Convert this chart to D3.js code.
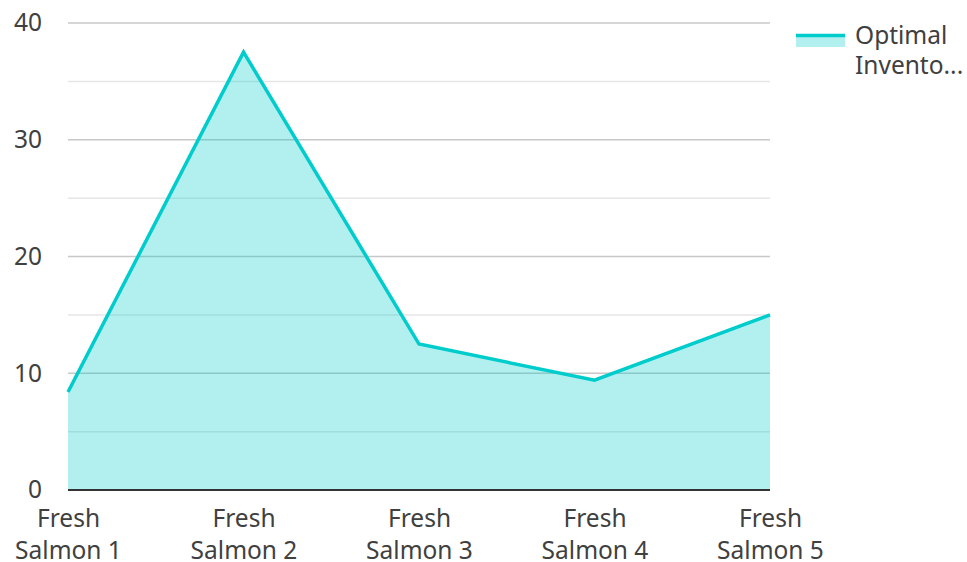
<!DOCTYPE html>
<html>
<head>
<meta charset="utf-8">
<script src="https://cdn.jsdelivr.net/npm/d3@7"></script>
<style>
  body { margin: 0; background: #fff; }
  text { font-family: "Noto Sans", "Open Sans", sans-serif; fill: #404040; }
</style>
</head>
<body>
<div id="chart"></div>
<script>
// data
var categories = ["Fresh Salmon 1", "Fresh Salmon 2", "Fresh Salmon 3", "Fresh Salmon 4", "Fresh Salmon 5"];
var inventory = [8.4, 37.5, 12.5, 9.4, 15.0];
var yTicks = [0, 10, 20, 30, 40];
var seriesName = "Optimal Inventory";

var width = 967, height = 562;
var margin = {top: 23, right: 197, bottom: 72, left: 68};
var w = width - margin.left - margin.right;
var h = height - margin.top - margin.bottom;
var lineColor = "#00cccc";
var fontSize = 24.5;

var svg = d3.select("#chart").append("svg")
    .attr("width", width).attr("height", height);

var g = svg.append("g").attr("transform", `translate(${margin.left},${margin.top})`);

var x = d3.scalePoint().domain(categories).range([0, w]);
var y = d3.scaleLinear().domain([0, 40]).range([h, 0]);

// gridlines (minor then major)
var minor = d3.range(5, 40, 10);
g.selectAll(".minor").data(minor).join("line")
    .attr("x1", 0).attr("x2", w)
    .attr("y1", d => y(d)).attr("y2", d => y(d))
    .attr("stroke", "#e6e6e6").attr("stroke-width", 1.5);
g.selectAll(".major").data(yTicks.slice(1)).join("line")
    .attr("x1", 0).attr("x2", w)
    .attr("y1", d => y(d)).attr("y2", d => y(d))
    .attr("stroke", "#c8c8c8").attr("stroke-width", 1.5);

var pts = categories.map((c, i) => ({c: c, v: inventory[i]}));

g.append("path").datum(pts)
    .attr("fill", lineColor).attr("fill-opacity", 0.3)
    .attr("d", d3.area().x(d => x(d.c)).y0(y(0)).y1(d => y(d.v)));

g.append("path").datum(pts)
    .attr("fill", "none").attr("stroke", lineColor).attr("stroke-width", 3.5)
    .attr("stroke-linejoin", "miter")
    .attr("d", d3.line().x(d => x(d.c)).y(d => y(d.v)));

// zero line
g.append("line").attr("x1", 0).attr("x2", w)
    .attr("y1", y(0)).attr("y2", y(0))
    .attr("stroke", "#333").attr("stroke-width", 2);

// y axis labels
var yAx = g.append("g").call(d3.axisLeft(y).tickValues(yTicks).tickSize(0).tickPadding(26));
yAx.select(".domain").remove();
yAx.selectAll(".tick text").attr("font-size", fontSize).attr("fill", "#444")
    .style("font-family", '"Noto Sans", sans-serif');

// x axis labels, two lines
var xAx = g.append("g").attr("transform", `translate(0,${h})`)
    .call(d3.axisBottom(x).tickSize(0).tickFormat(""));
xAx.select(".domain").remove();
xAx.selectAll(".tick").each(function(d) {
    var parts = d.split(" ");
    var t = d3.select(this).append("text")
        .attr("text-anchor", "middle").attr("font-size", fontSize).attr("fill", "#444");
    t.append("tspan").attr("x", 0).attr("y", 37).text(parts[0]);
    t.append("tspan").attr("x", 0).attr("y", 69).text(parts.slice(1).join(" "));
});

// legend
var lg = svg.append("g").attr("transform", "translate(796,34)");
lg.append("rect").attr("x", 0).attr("y", 0).attr("width", 49).attr("height", 13)
    .attr("fill", lineColor).attr("fill-opacity", 0.3);
lg.append("line").attr("x1", 0).attr("x2", 49).attr("y1", 1.5).attr("y2", 1.5)
    .attr("stroke", lineColor).attr("stroke-width", 3.5);
var lt = lg.append("text").attr("font-size", fontSize).attr("fill", "#404040");
lt.append("tspan").attr("x", 59).attr("y", 10).text("Optimal");
lt.append("tspan").attr("x", 59).attr("y", 40).text("Invento...");
lt.append("title").text(seriesName);
</script>
</body>
</html>
